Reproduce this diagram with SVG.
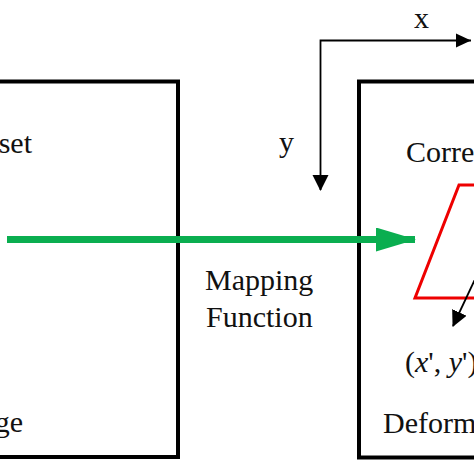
<svg xmlns="http://www.w3.org/2000/svg" width="474" height="474" viewBox="0 0 474 474">
<style>
.t{font-family:"Liberation Serif","Times New Roman",serif;font-size:30px;fill:#111}
.box{fill:none;stroke:#000;stroke-width:4}
.ax{fill:none;stroke:#000;stroke-width:1.8}
</style>
<defs>
<marker id="ah" markerWidth="16" markerHeight="16" refX="15" refY="8" orient="auto" markerUnits="userSpaceOnUse">
<path d="M0,0 L16,8 L0,16 Z" fill="#000"/>
</marker>
<marker id="ga" markerWidth="40" markerHeight="24" refX="39" refY="12" orient="auto" markerUnits="userSpaceOnUse">
<path d="M0,0 L40,12 L0,24 Z" fill="#0AAE50"/>
</marker>
</defs>
<rect width="474" height="474" fill="#fff"/>
<g id="reference-box">
<rect class="box" x="-10" y="81.5" width="188" height="375.5"/>
<text class="t" x="32" y="153" text-anchor="end">set</text>
<text class="t" x="23" y="432" text-anchor="end">ge</text>
</g>
<g id="deformed-box">
<rect class="box" x="359" y="81.5" width="130" height="376"/>
<text class="t" x="406" y="162">Corre</text>
<text class="t" x="383" y="433">Deform</text>
<polygon points="459,185 500,185 500,298 415,298" fill="none" stroke="#e00" stroke-width="3"/>
<text class="t" x="405" y="372">(<tspan font-style="italic">x</tspan>', <tspan font-style="italic">y</tspan>')</text>
</g>
<g id="axes">
<polyline class="ax" points="320.5,190 320.5,40.5 471,40.5"/>
<path d="M456,33.5 L471,40.5 L456,47.5 Z" fill="#000"/>
<path d="M312.5,175 L320.5,191 L328.5,175 Z" fill="#000"/>
<text class="t" x="414" y="28">x</text>
<text class="t" x="279" y="152">y</text>
</g>
<g id="mapping-label">
<text class="t" x="205" y="290">Mapping</text>
<text class="t" x="206" y="327">Function</text>
</g>
<g id="connectors">
<line x1="7" y1="239.5" x2="415" y2="239.5" stroke="#0AAE50" stroke-width="7" marker-end="url(#ga)"/>
<line x1="478" y1="273" x2="453" y2="326" stroke="#000" stroke-width="1.8" marker-end="url(#ah)"/>
</g>
</svg>
